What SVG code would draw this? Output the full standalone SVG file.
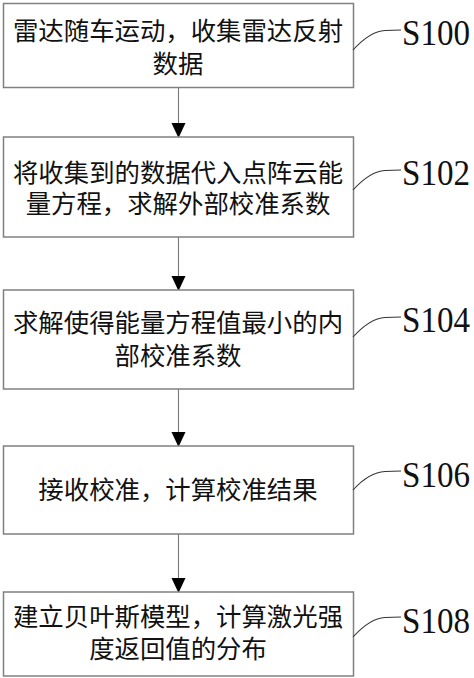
<svg xmlns="http://www.w3.org/2000/svg" width="474" height="678" viewBox="0 0 474 678">
<defs>
<marker id="ah" markerWidth="15" markerHeight="16" refX="15" refY="7.5" orient="auto" markerUnits="userSpaceOnUse" viewBox="0 0 16 15">
<path d="M0,0 L16,7.5 L0,15 Z" fill="#000"/>
</marker>
<style>
.box{fill:#fff;stroke:#808080;stroke-width:1.5}
.t{font-family:"Noto Sans CJK SC","Noto Sans",sans-serif;font-size:25.4px;fill:#111;text-anchor:middle}
.s{font-family:"Liberation Serif","Times New Roman",serif;font-size:36px;fill:#111}
.c{fill:none;stroke:#333;stroke-width:1.1}
.a{fill:none;stroke:#777;stroke-width:1.1}
</style>
</defs>
<rect width="474" height="678" fill="#fff"/>
<g id="connectors">
<line class="a" x1="178.5" y1="88" x2="178.5" y2="137" marker-end="url(#ah)"/>
<line class="a" x1="178.5" y1="237" x2="178.5" y2="290" marker-end="url(#ah)"/>
<line class="a" x1="178.5" y1="389" x2="178.5" y2="446" marker-end="url(#ah)"/>
<line class="a" x1="178.5" y1="534" x2="178.5" y2="592" marker-end="url(#ah)"/>
</g>
<g id="S100">
<rect class="box" x="3.5" y="3.5" width="350" height="84"/>
<text class="t" x="178" y="39.5">雷达随车运动，收集雷达反射</text>
<text class="t" x="178" y="72.5">数据</text>
<path class="c" d="M353,50 C364,38 374,31 385,30.5 Q393,30 401,30"/>
<text class="s" x="402" y="45" textLength="68" lengthAdjust="spacingAndGlyphs">S100</text>
</g>
<g id="S102">
<rect class="box" x="3.5" y="137" width="350" height="100"/>
<text class="t" x="178" y="181.5">将收集到的数据代入点阵云能</text>
<text class="t" x="178" y="212.5">量方程，求解外部校准系数</text>
<path class="c" d="M353,190 C364,178 374,171 385,170.5 Q393,170 401,170"/>
<text class="s" x="402" y="185" textLength="68" lengthAdjust="spacingAndGlyphs">S102</text>
</g>
<g id="S104">
<rect class="box" x="3.5" y="290" width="350" height="99"/>
<text class="t" x="178" y="331.5">求解使得能量方程值最小的内</text>
<text class="t" x="178" y="364.5">部校准系数</text>
<path class="c" d="M353,337 C364,325 374,318 385,317.5 Q393,317 401,317"/>
<text class="s" x="402" y="332" textLength="68" lengthAdjust="spacingAndGlyphs">S104</text>
</g>
<g id="S106">
<rect class="box" x="3.5" y="446" width="350" height="88"/>
<text class="t" x="178" y="498.5">接收校准，计算校准结果</text>
<path class="c" d="M353,490 C364,478 374,472 385,471.5 Q393,471 401,471"/>
<text class="s" x="402" y="487" textLength="68" lengthAdjust="spacingAndGlyphs">S106</text>
</g>
<g id="S108">
<rect class="box" x="3.5" y="592" width="350" height="84"/>
<text class="t" x="178" y="625.5">建立贝叶斯模型，计算激光强</text>
<text class="t" x="178" y="657.5">度返回值的分布</text>
<path class="c" d="M353,637 C364,625 374,618 385,617.5 Q393,617 401,617"/>
<text class="s" x="402" y="633" textLength="68" lengthAdjust="spacingAndGlyphs">S108</text>
</g>
</svg>
